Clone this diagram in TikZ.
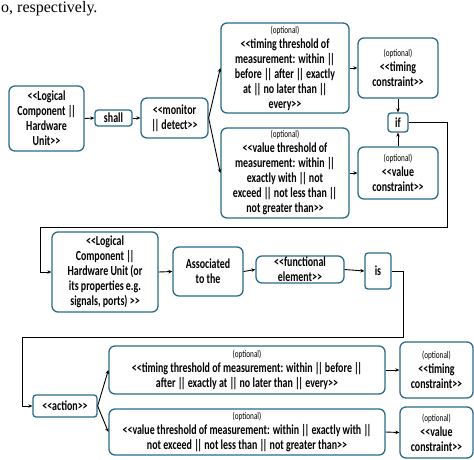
\documentclass[tikz,border=0pt]{standalone}
\usepackage{fontspec}
\setmainfont{Carlito}[FakeStretch=0.72]
\newfontfamily\capfont{Liberation Serif}
\usetikzlibrary{arrows.meta}
\definecolor{boxline}{RGB}{42,108,138}
\tikzset{
  box/.style={draw=boxline, line width=1.3pt, rounded corners=6pt, fill=white,
    align=center, inner sep=0pt, font=\fontsize{13.8}{15}\selectfont\bfseries},
  smallbox/.style={box, rounded corners=3pt},
  conn/.style={draw=black, line width=0.9pt, -{Stealth[length=4pt,width=3.5pt]}},
}
\newcommand{\opt}{{\fontsize{10}{11}\selectfont\mdseries (optional)}}
\newcommand{\bars}{|\kern-1.6pt|}
\begin{document}
\begin{tikzpicture}[x=1pt,y=-1pt]
\useasboundingbox (0,0) rectangle (474,459);
\node[anchor=north west, inner sep=0pt, font=\capfont\fontsize{16}{16}\selectfont] (cap) at (1,1) {o, respectively.};

\node[box, minimum width=75, minimum height=65] (lc1) at (46.5,118.5) {<{}<Logical\\Component \bars\\Hardware\\Unit>{}>};
\node[smallbox, minimum width=37, minimum height=16] (shall) at (113.5,118) {shall};
\node[box, minimum width=67, minimum height=40] (mon) at (174.5,118) {<{}<monitor\\\bars{} detect>{}>};
\node[box, minimum width=128, minimum height=90] (tt1) at (285,68) {\opt\\<{}<timing threshold of\\measurement: within \bars\\before \bars{} after \bars{} exactly\\at \bars{} no later than \bars\\every>{}>};
\node[box, minimum width=128, minimum height=90] (vt1) at (285,173) {\opt\\<{}<value threshold of\\measurement: within \bars\\exactly with \bars{} not\\exceed \bars{} not less than \bars\\not greater than>{}>};
\node[box, minimum width=80, minimum height=60] (tc1) at (398,68) {\opt\\<{}<timing\\constraint>{}>};
\node[smallbox, minimum width=20, minimum height=19] (if) at (398,122.5) {if};
\node[box, minimum width=80, minimum height=52] (vc1) at (398,173) {\opt\\<{}<value\\constraint>{}>};

\node[box, minimum width=106, minimum height=80] (lc2) at (105,272) {<{}<Logical\\Component \bars\\Hardware Unit (or\\its properties e.g.\\signals, ports) >{}>};
\node[box, minimum width=70, minimum height=49] (as) at (208,271.5) {Associated\\to the};
\node[box, minimum width=88, minimum height=27] (fe) at (300,269.5) {<{}<functional\\element>{}>};
\node[smallbox, minimum width=26, minimum height=36] (is) at (378,271) {is};

\node[smallbox, minimum width=64, minimum height=22] (act) at (65,406) {<{}<action>{}>};
\node[box, minimum width=276, minimum height=48] (tt2) at (247,370) {\opt\\<{}<timing threshold of measurement: within \bars{} before \bars\\after \bars{} exactly at \bars{} no later than \bars{} every>{}>};
\node[box, minimum width=276, minimum height=46] (vt2) at (247,432) {\opt\\<{}<value threshold of measurement: within \bars{} exactly with \bars\\not exceed \bars{} not less than \bars{} not greater than>{}>};
\node[box, minimum width=73, minimum height=56] (tc2) at (436.5,370) {\opt\\<{}<timing\\constraint>{}>};
\node[box, minimum width=73, minimum height=51] (vc2) at (436.5,432.5) {\opt\\<{}<value\\constraint>{}>};

\coordinate (r1) at (447,122.5);
\coordinate (r2) at (447,227);
\coordinate (r3) at (40,227);
\coordinate (r4) at (40,272);
\coordinate (s1) at (403,271);
\coordinate (s2) at (403,337);
\coordinate (s3) at (22,337);
\coordinate (s4) at (22,406);

\draw[conn] (lc1.east) -- (shall.west);
\draw[conn] (shall.east) -- (mon.west);
\draw[conn] (mon.east) -- (tt1.west);
\draw[conn] (mon.east) -- (vt1.west);
\draw[conn] (tt1.east) -- (tc1.west);
\draw[conn] (vt1.east) -- (vc1.west);
\draw[conn] (tc1.south) -- (if.north);
\draw[conn] (vc1.north) -- (if.south);
\draw[conn] (if.east) -- (r1) -- (r2) -- (r3) -- (r4) -- (lc2.west);
\draw[conn] (lc2.east) -- (as.west);
\draw[conn] (as.east) -- (fe.west);
\draw[conn] (fe.east) -- (is.west);
\draw[conn] (is.east) -- (s1) -- (s2) -- (s3) -- (s4) -- (act.west);
\draw[conn] (act.east) -- (tt2.west);
\draw[conn] (act.east) -- (vt2.west);
\draw[conn] (tt2.east) -- (tc2.west);
\draw[conn] (vt2.east) -- (vc2.west);
\end{tikzpicture}
\end{document}
